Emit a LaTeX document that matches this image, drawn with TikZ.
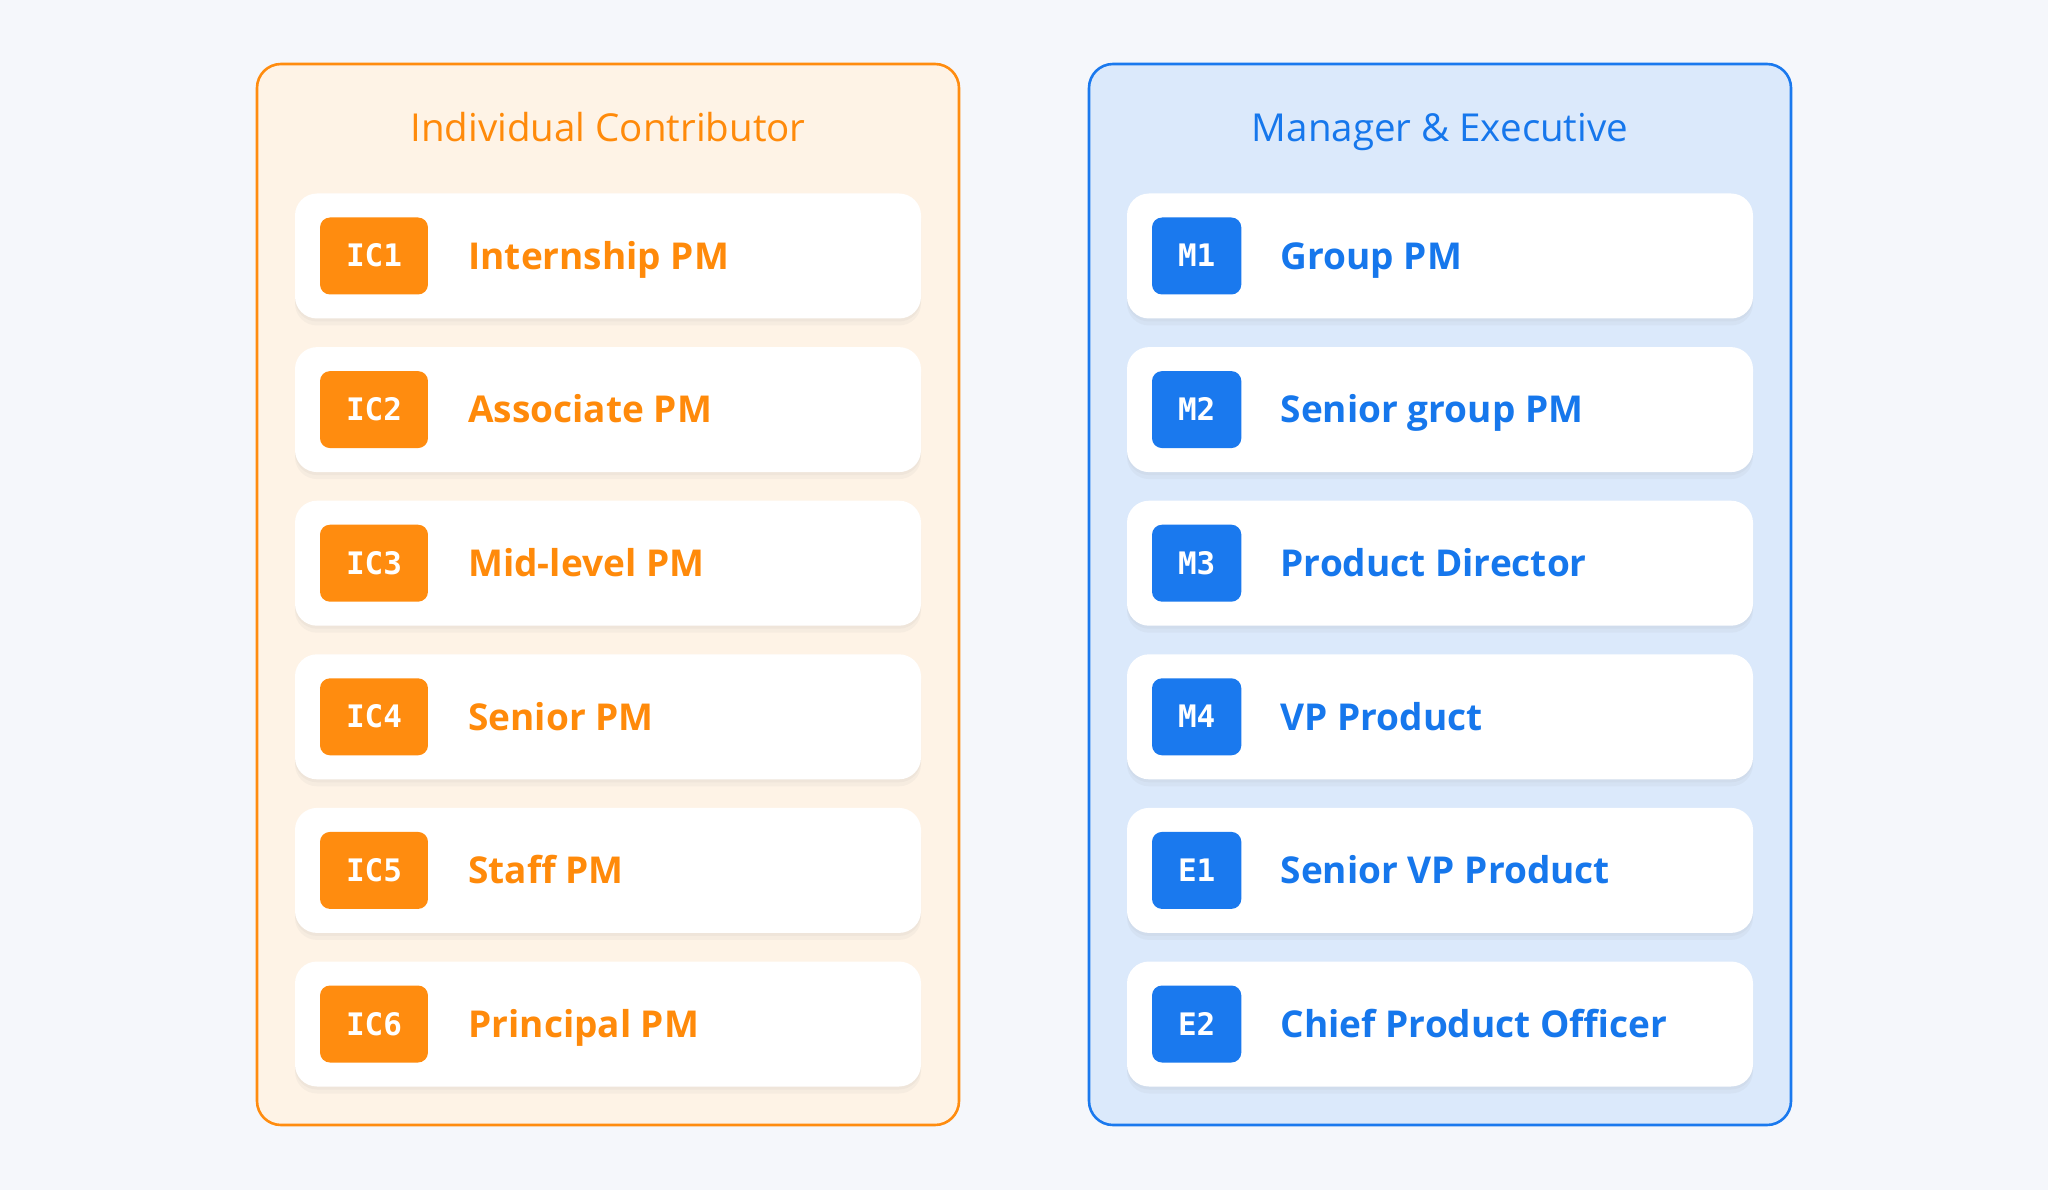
\documentclass[tikz,border=0pt]{standalone}
\usepackage{fontspec}
\setmainfont{Open Sans}
\setmonofont{DejaVu Sans Mono}
\usetikzlibrary{shadows,positioning}
\definecolor{pagebg}{HTML}{F5F7FB}
\definecolor{icline}{HTML}{FF8C0F}
\definecolor{icfill}{HTML}{FEF3E6}
\definecolor{ictext}{HTML}{FF8A0A}
\definecolor{mline}{HTML}{1A79EE}
\definecolor{mfill}{HTML}{DBE9FB}
\definecolor{mtext}{HTML}{1677EC}
\tikzset{
  panel/.style={draw=#1line, fill=#1fill, line width=2.6pt, rounded corners=24pt,
    minimum width=702pt, minimum height=1061pt, inner sep=0pt},
  paneltitle/.style={text=#1text, inner sep=0pt, text height=28pt, text depth=0pt,
    font=\fontsize{38.5pt}{44pt}\selectfont},
  card/.style={fill=white, rounded corners=22pt, minimum width=626pt, minimum height=125pt,
    inner sep=0pt, drop shadow={shadow xshift=0pt, shadow yshift=-7pt, opacity=0.06},
    drop shadow={shadow xshift=0pt, shadow yshift=-3pt, opacity=0.06}},
  badge/.style={fill=#1line, text=white, rounded corners=10pt, minimum height=77pt,
    inner xsep=26pt, inner ysep=0pt, text height=22pt, text depth=0pt,
    font=\ttfamily\bfseries\fontsize{31pt}{36pt}\selectfont},
  role/.style={text=#1text, inner sep=0pt, text height=26.5pt, text depth=0pt,
    font=\bfseries\fontsize{37pt}{42pt}\selectfont}
}
\begin{document}
\begin{tikzpicture}[x=1pt,y=-1pt]
  \fill[pagebg] (0,0) rectangle (2048,1190);
  \useasboundingbox (0,0) rectangle (2048,1190);
  % the two tracks
  \node[panel=ic] (icpanel) at (608,594.5) {};
  \node[panel=m] (mpanel) at (1440,594.5) {};
  \node[paneltitle=ic] (ictitle) at (608,128) {Individual Contributor};
  \node[paneltitle=m] (mtitle) at (1440,128) {Manager \& Executive};
  % individual contributor levels
  \foreach \tag/\role [count=\i] in {IC1/Internship PM, IC2/Associate PM, IC3/Mid-level PM,
      IC4/Senior PM, IC5/Staff PM, IC6/Principal PM} {
    \pgfmathsetmacro\cy{256+153.6*(\i-1)}
    \node[card] (iccard\i) at (608,\cy) {};
    \node[badge=ic, anchor=west] (icbadge\i) at ([xshift=25pt]iccard\i.west) {\tag};
    \node[role=ic, right=40pt of icbadge\i] (icrole\i) {\role};
  }
  % manager and executive levels
  \foreach \tag/\role [count=\i] in {M1/Group PM, M2/Senior group PM, M3/Product Director,
      M4/VP Product, E1/Senior VP Product, E2/Chief Product Officer} {
    \pgfmathsetmacro\cy{256+153.6*(\i-1)}
    \node[card] (mcard\i) at (1440,\cy) {};
    \node[badge=m, anchor=west] (mbadge\i) at ([xshift=25pt]mcard\i.west) {\tag};
    \node[role=m, right=39pt of mbadge\i] (mrole\i) {\role};
  }
\end{tikzpicture}
\end{document}
